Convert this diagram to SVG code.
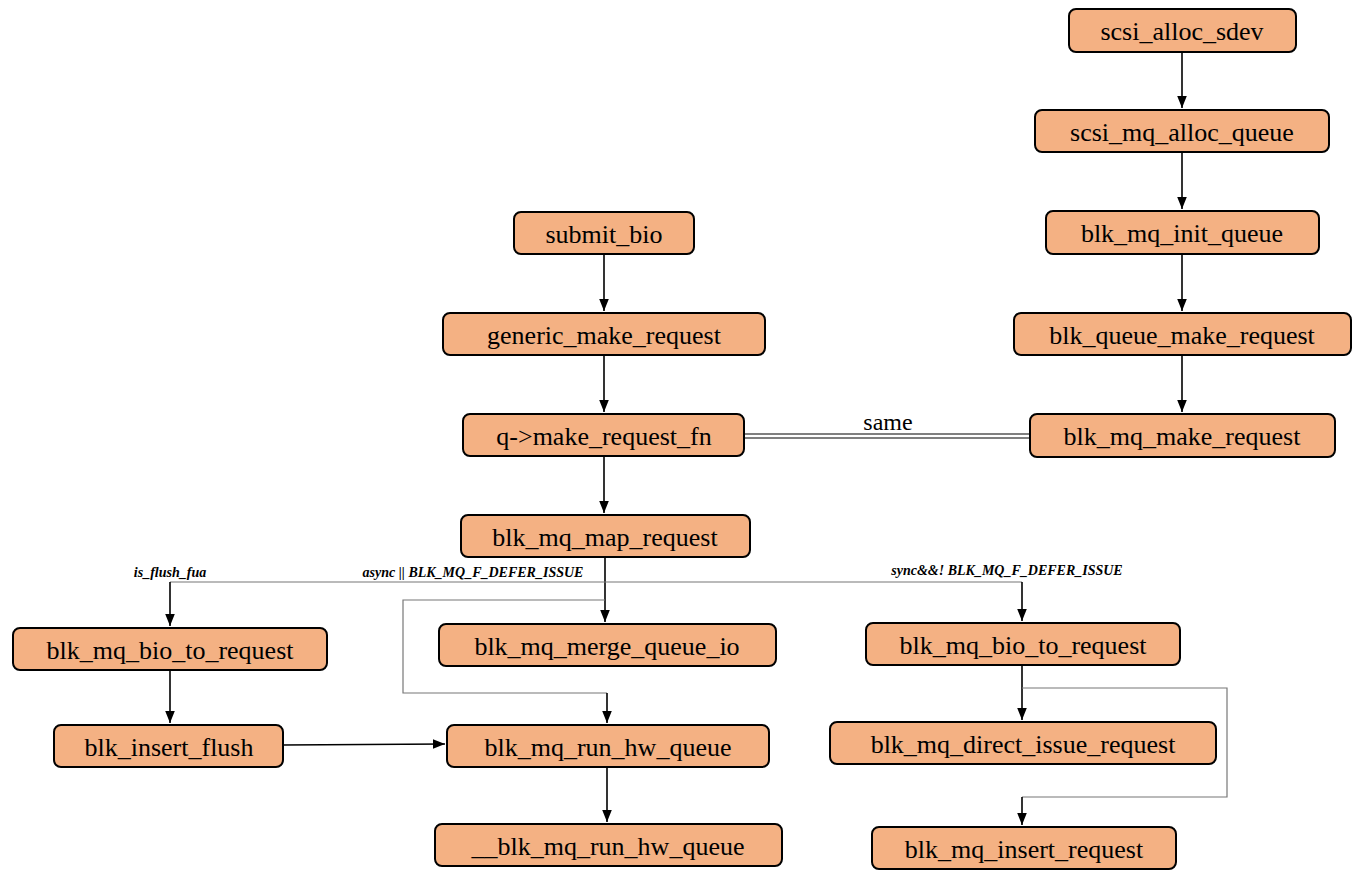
<svg xmlns="http://www.w3.org/2000/svg" width="1359" height="895" viewBox="0 0 1359 895">
<style>
.n rect{fill:#f4b183;stroke:#000;stroke-width:2}
.n text{font-family:"Liberation Serif",serif;font-size:26px;text-anchor:middle;fill:#000}
.c path{fill:none;stroke:#000;stroke-width:1.6}
.g{stroke:#777!important;stroke-width:1.2!important}
.l{font-family:"Liberation Serif",serif;font-size:14px;font-style:italic;font-weight:bold}
</style>
<defs><marker id="a" viewBox="0 0 10 10" refX="10" refY="5" markerWidth="7" markerHeight="7" orient="auto" markerUnits="userSpaceOnUse"><path d="M0,0L10,5L0,10z"/></marker>
<marker id="b" viewBox="0 0 10 10" refX="10" refY="5" markerWidth="12" markerHeight="12" orient="auto" markerUnits="userSpaceOnUse"><path d="M0,1L10,5L0,9z"/></marker></defs>
<g class="c">
<path d="M1182,52V108" marker-end="url(#b)"/>
<path d="M1182,152V209" marker-end="url(#b)"/>
<path d="M1182,254V311" marker-end="url(#b)"/>
<path d="M1182,355V412" marker-end="url(#b)"/>
<path d="M604,254V311" marker-end="url(#b)"/>
<path d="M604,355V412" marker-end="url(#b)"/>
<path d="M604,456V513" marker-end="url(#b)"/>
<path d="M745,434H1030M745,438H1030" style="stroke-width:1.2"/>
<path d="M605,557V622" marker-end="url(#b)"/>
<path class="g" d="M170,582H1022"/>
<path d="M170,582V626" marker-end="url(#b)"/>
<path d="M1022,582V621" marker-end="url(#b)"/>
<path class="g" d="M605,600H403V693H607"/>
<path d="M607,693V723" marker-end="url(#b)"/>
<path d="M170,670V723" marker-end="url(#b)"/>
<path d="M283,745L445,744" marker-end="url(#b)"/>
<path d="M607,767V822" marker-end="url(#b)"/>
<path d="M1022,665V720" marker-end="url(#b)"/>
<path class="g" d="M1022,688H1227V797H1022"/>
<path d="M1022,797V825" marker-end="url(#b)"/>
</g>
<text x="888" y="430" style="font-family:'Liberation Serif',serif;font-size:24px" text-anchor="middle">same</text>
<text class="l" x="170" y="577" text-anchor="middle">is_flush_fua</text>
<text class="l" x="473" y="577" text-anchor="middle">async || BLK_MQ_F_DEFER_ISSUE</text>
<text class="l" x="1007" y="575" text-anchor="middle">sync&amp;&amp;! BLK_MQ_F_DEFER_ISSUE</text>
<g id="n1" class="n"><rect x="1069" y="9" width="227" height="43" rx="7"/><text x="1182" y="40">scsi_alloc_sdev</text></g>
<g id="n2" class="n"><rect x="1035" y="110" width="294" height="42" rx="7"/><text x="1182" y="141">scsi_mq_alloc_queue</text></g>
<g id="n3" class="n"><rect x="1046" y="211" width="273" height="43" rx="7"/><text x="1182" y="242">blk_mq_init_queue</text></g>
<g id="n4" class="n"><rect x="1014" y="313" width="337" height="42" rx="7"/><text x="1182" y="344">blk_queue_make_request</text></g>
<g id="n5" class="n"><rect x="1030" y="414" width="305" height="43" rx="7"/><text x="1182" y="445">blk_mq_make_request</text></g>
<g id="n6" class="n"><rect x="514" y="212" width="180" height="42" rx="7"/><text x="604" y="243">submit_bio</text></g>
<g id="n7" class="n"><rect x="443" y="313" width="322" height="42" rx="7"/><text x="604" y="344">generic_make_request</text></g>
<g id="n8" class="n"><rect x="463" y="414" width="281" height="42" rx="7"/><text x="604" y="445">q-&gt;make_request_fn</text></g>
<g id="n9" class="n"><rect x="461" y="515" width="289" height="42" rx="7"/><text x="605" y="546">blk_mq_map_request</text></g>
<g id="n10" class="n"><rect x="13" y="628" width="314" height="42" rx="7"/><text x="170" y="659">blk_mq_bio_to_request</text></g>
<g id="n11" class="n"><rect x="54" y="725" width="229" height="42" rx="7"/><text x="169" y="756">blk_insert_flush</text></g>
<g id="n12" class="n"><rect x="439" y="624" width="337" height="42" rx="7"/><text x="607" y="655">blk_mq_merge_queue_io</text></g>
<g id="n13" class="n"><rect x="447" y="725" width="322" height="42" rx="7"/><text x="608" y="756">blk_mq_run_hw_queue</text></g>
<g id="n14" class="n"><rect x="435" y="824" width="347" height="42" rx="7"/><text x="608" y="855">__blk_mq_run_hw_queue</text></g>
<g id="n15" class="n"><rect x="866" y="623" width="314" height="42" rx="7"/><text x="1023" y="654">blk_mq_bio_to_request</text></g>
<g id="n16" class="n"><rect x="830" y="722" width="386" height="42" rx="7"/><text x="1023" y="753">blk_mq_direct_issue_request</text></g>
<g id="n17" class="n"><rect x="872" y="827" width="304" height="42" rx="7"/><text x="1024" y="858">blk_mq_insert_request</text></g>
</svg>
